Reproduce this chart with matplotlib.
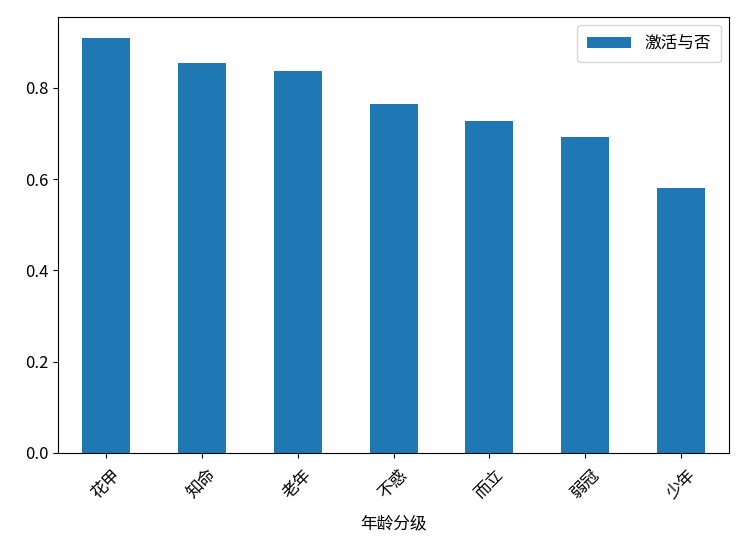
import numpy as np
import matplotlib
matplotlib.use('Agg')
import matplotlib.pyplot as plt

plt.rcParams['font.family'] = ['Noto Sans CJK SC', 'DejaVu Sans']
plt.rcParams['axes.unicode_minus'] = False

categories = ['花甲', '知命', '老年', '不惑', '而立', '弱冠', '少年']
values = [0.910, 0.855, 0.837, 0.764, 0.727, 0.692, 0.580]
series_name = '激活与否'

fig = plt.figure(figsize=(7.45, 5.49), dpi=100)
ax = fig.add_axes([0.078, 0.175, 0.9005, 0.794])

x = np.arange(len(categories))
ax.bar(x, values, width=0.5, color='#1f77b4', label=series_name)
ax.set_xlim(-0.5, len(categories) - 0.5)
ax.set_ylim(0, 0.955)
ax.set_xticks(x)
ax.set_xticklabels(categories, rotation=45, fontsize=12)
ax.tick_params(axis='x', pad=6)
ax.set_yticks([0.0, 0.2, 0.4, 0.6, 0.8])
ax.set_yticklabels(['0.0', '0.2', '0.4', '0.6', '0.8'], fontsize=12)
ax.set_xlabel('年龄分级', fontsize=12, labelpad=10)
ax.legend(loc='upper right', fontsize=12, borderpad=0.6, handlelength=2.6)

fig.savefig('out.png', dpi=100)
